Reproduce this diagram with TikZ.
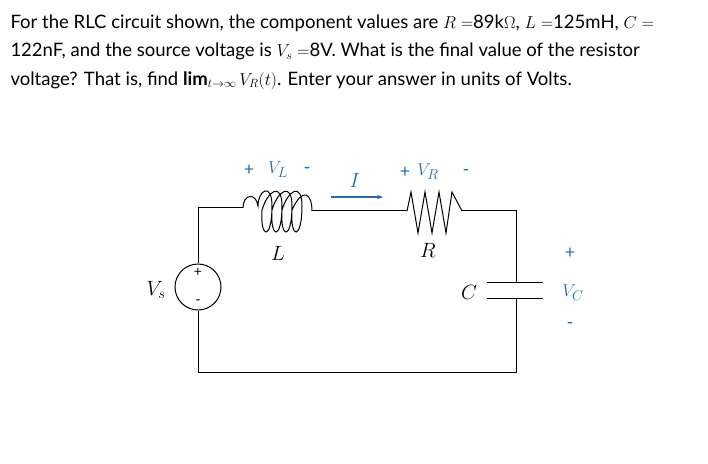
\documentclass[tikz,border=0pt]{standalone}
\usepackage{fontspec}
\setmainfont{Lato}
\newfontfamily\calfont{Carlito}
\usetikzlibrary{arrows.meta}
\definecolor{lblue}{RGB}{30,110,180}
\begin{document}
\begin{tikzpicture}[x=1bp,y=-1bp,line width=1bp,
  blue/.style={text=lblue,font=\calfont\fontsize{19}{19}\selectfont},
  comp/.style={font=\fontsize{22}{22}\selectfont}]
\useasboundingbox (0,0) rectangle (708,464);
\node[anchor=west,font=\fontsize{18.6}{28.5}\selectfont,align=left,inner sep=0] (q) at (10,52) {For the RLC circuit shown, the component values are $R=$89k$\Omega$, $L=$125mH, $C=$\\122nF, and the source voltage is $V_s=$8V. What is the final value of the resistor\\voltage? That is, find $\mathop{\mathbf{lim}}\nolimits_{t\to\infty}V_R(t)$. Enter your answer in units of Volts.};
\coordinate (tl) at (198,208);
\coordinate (bl) at (198,372);
\coordinate (br) at (516,372);
\coordinate (tr) at (516,211);
\node[circle,draw,minimum size=46bp,inner sep=0] (src) at (198,287) {};
\node[font=\fontsize{14}{14}\selectfont] at (198,272) {+};
\node[font=\fontsize{14}{14}\selectfont] at (198,302) {-};
\coordinate (l1) at (243,208);
\coordinate (l2) at (312,211);
\coordinate (r1) at (407,211);
\coordinate (r2) at (462,211);
\coordinate (c1) at (516,283);
\coordinate (c2) at (516,299);
\draw (src.north) -- (tl) -- (l1);
\draw (src.south) -- (bl) -- (br) -- (c2);
\draw (c1) -- (tr) -- (r2);
\draw (l2) -- (r1);
\draw (l1) .. controls (243,194) and (256,192) .. (258,206)
  \foreach \k in {0,1,2,3} {
    .. controls (258+\k*10,190) and (272+\k*10,182) .. (272+\k*10,206)
    .. controls (272+\k*10,240) and (260+\k*10,240) .. (262+\k*10,210)
  } .. controls (303,186) and (312,194) .. (312,211);
\draw (r1) -- (411,192) -- (418,233) -- (425,192) -- (432,233) -- (439,192) -- (446,233) -- (452,192) -- (r2);
\draw (487,283) -- (543,283);
\draw (487,299) -- (543,299);
\node[comp] (Ls) at (278,253) {$L$};
\node[comp] (Rs) at (428,250) {$R$};
\node[comp] (Cs) at (469,292) {$C$};
\node[comp] (Vs) at (156,290) {$V_s$};
\node[blue] (vl) at (249,170) {+};
\node[blue] (VL) at (278,170) {$V_L$};
\node[blue] (vlm) at (307,170) {-};
\node[blue] (vr) at (405,172) {+};
\node[blue] (VR) at (428,172) {$V_R$};
\node[blue] (vrm) at (466,172) {-};
\node[blue] (vc) at (570,253) {+};
\node[blue] (VC) at (573,293) {$V_C$};
\node[blue] (vcm) at (570,325) {-};
\node[blue,font=\fontsize{22}{22}\selectfont] (I) at (355,180) {$I$};
\coordinate (ia) at (331,197); \coordinate (ib) at (383,197);
\draw[lblue,line width=1.5bp,-{Stealth[length=6bp]}] (ia) -- (ib);
\end{tikzpicture}
\end{document}
